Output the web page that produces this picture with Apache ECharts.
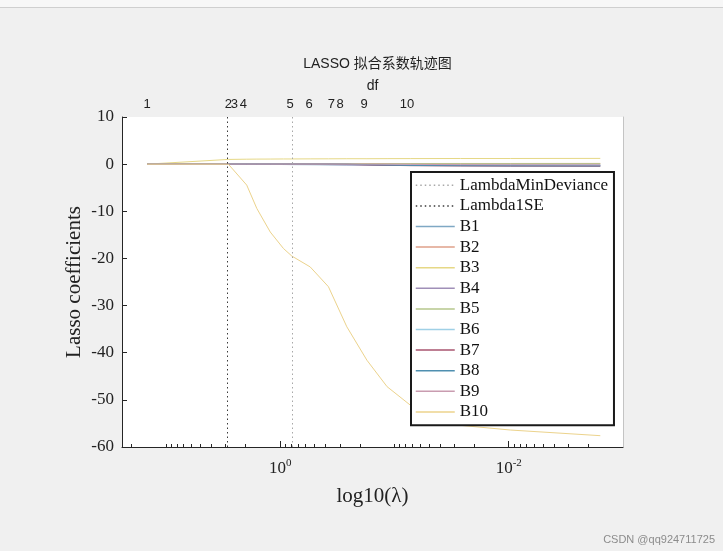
<!DOCTYPE html>
<html><head><meta charset="utf-8">
<script src="https://cdn.jsdelivr.net/npm/echarts@6/dist/echarts.min.js"></script>
<style>
html,body{margin:0;padding:0;background:#f0f0f0;}
#topbar{position:absolute;left:0;top:0;width:723px;height:7px;background:#f7f7f7;border-bottom:1px solid #cfcfcf;}
#c{position:absolute;left:0;top:0;width:723px;height:551px;}
</style></head><body>
<div id="topbar"></div>
<div id="c"></div>
<script>
// ---- data ----
const titleText = 'LASSO 拟合系数轨迹图';
const lambda = [14.6, 2.84, 1.96, 1.60, 1.22, 0.935, 0.79, 0.546, 0.378, 0.261, 0.174, 0.116, 0.0728, 0.0265, 0.00968, 0.00158];
const B1  = [0, 0, 0, -0.02, -0.05, -0.08, -0.1, -0.12, -0.15, -0.18, -0.2, -0.22, -0.24, -0.25, -0.26, -0.27];
const B2  = [0, 0, 0, 0, 0.02, 0.04, 0.05, 0.06, 0.08, 0.1, 0.11, 0.12, 0.13, 0.14, 0.14, 0.15];
const B3  = [0, 1.0, 1.05, 1.07, 1.08, 1.1, 1.1, 1.12, 1.13, 1.15, 1.15, 1.17, 1.18, 1.2, 1.2, 1.22];
const B4  = [0, 0, 0, 0, 0, 0, 0, -0.05, -0.1, -0.15, -0.2, -0.25, -0.3, -0.33, -0.35, -0.36];
const B5  = [0, 0, 0, 0, 0, 0, 0, 0, 0.03, 0.05, 0.07, 0.08, 0.09, 0.1, 0.1, 0.1];
const B6  = [0, 0, 0, 0, 0, 0, 0, 0, 0, -0.05, -0.08, -0.1, -0.12, -0.13, -0.14, -0.15];
const B7  = [0, 0, 0, 0, 0, 0, 0, 0, 0, -0.05, -0.15, -0.25, -0.32, -0.38, -0.42, -0.45];
const B8  = [0, 0, 0, 0, 0, 0, 0, 0, 0, 0, -0.1, -0.2, -0.28, -0.33, -0.36, -0.38];
const B9  = [0, 0, 0, 0, 0, 0, 0, 0, 0, 0, 0, 0, -0.05, -0.1, -0.12, -0.14];
const B10 = [0, 0, -4.45, -9.4, -14.4, -17.9, -19.5, -21.8, -26.0, -34.5, -41.6, -47.2, -51.1, -55.4, -56.4, -57.6];
const lambdaMinDeviance = 0.79;
const lambda1SE = 2.89;
const dfLambda = [14.6, 2.84, 2.51, 2.10, 0.817, 0.557, 0.357, 0.298, 0.184, 0.0778];
const dfLabels = ['1', '2', '3', '4', '5', '6', '7', '8', '9', '10'];
const xMajorTicks = [1, 0.01];
const xMajorLabels = ['0', '-2'];
const xMinorTicks = [20, 10, 9, 8, 7, 6, 5, 4, 3, 2,
  0.9, 0.8, 0.7, 0.6, 0.5, 0.4, 0.3, 0.2, 0.1,
  0.09, 0.08, 0.07, 0.06, 0.05, 0.04, 0.03, 0.02,
  0.009, 0.008, 0.007, 0.006, 0.005, 0.004, 0.003, 0.002];
const yTicks = {min: -60, max: 10, interval: 10};
const coefNames = ['B1','B2','B3','B4','B5','B6','B7','B8','B9','B10'];
const coefValues = [B1, B2, B3, B4, B5, B6, B7, B8, B9, B10];
const coefColors = ['#7fa8c4','#dfa08a','#e6d886','#a08fb8','#b6c78c','#9fd0e6','#a8546f','#4f8fb0','#c99cb0','#ecd38c'];

// ---- chart ----
const SERIF = '"Liberation Serif","DejaVu Serif",serif';
const SANS = '"Liberation Sans","Noto Sans CJK SC",sans-serif';
const xMin = 0.001, xMax = 24.2;
const AX = '#262626';

function nearestIdx(arr, v) {
  let best = 0, bd = Infinity;
  arr.forEach((a, i) => { const d = Math.abs(Math.log10(a) - Math.log10(v)); if (d < bd) { bd = d; best = i; } });
  return best;
}

const chart = echarts.init(document.getElementById('c'), null, {renderer: 'canvas'});

function vline(name, val, col) {
  return {
    name: name, type: 'line', xAxisIndex: 0, yAxisIndex: 0, data: [], symbol: 'none',
    color: col, itemStyle: {color: col},
    lineStyle: {type: [1.5, 3], color: col, width: 1},
    markLine: {silent: true, symbol: ['none','none'], label: {show: false},
      lineStyle: {type: [1.5, 3], color: col, width: 1}, data: [{xAxis: val}]}
  };
}
const series = [vline('LambdaMinDeviance', lambdaMinDeviance, '#a8a8a8'), vline('Lambda1SE', lambda1SE, '#3a3a3a')];
coefNames.forEach((n, k) => {
  series.push({
    name: n, type: 'line', xAxisIndex: 0, yAxisIndex: 0, symbol: 'none', silent: true,
    color: coefColors[k], itemStyle: {color: coefColors[k]},
    lineStyle: {color: coefColors[k], width: 1},
    data: lambda.map((l, i) => [l, coefValues[k][i]])
  });
});

const option = {
  animation: false,
  title: {text: titleText, left: 372.5, top: 52, textAlign: 'center',
    textStyle: {fontFamily: SANS, fontSize: 14, fontWeight: 'normal', color: '#222'}},
  grid: [
    {left: 122, top: 117, right: 100, bottom: 104, show: true, backgroundColor: '#fff', borderWidth: 0},
    {left: 122, top: 117, right: 100, bottom: 104, show: false}
  ],
  legend: {
    orient: 'vertical', left: 411, top: 172,
    data: ['LambdaMinDeviance', 'Lambda1SE'].concat(coefNames),
    itemWidth: 39, itemHeight: 14, itemGap: 0,
    padding: [3, 6, 3, 4],
    backgroundColor: '#fff', borderColor: '#1a1a1a', borderWidth: 2,
    itemStyle: {opacity: 0},
    lineStyle: {width: 1.5},
    textStyle: {fontFamily: SERIF, fontSize: 17, color: '#111', lineHeight: 20.6},
    selectedMode: false
  },
  xAxis: [
    {
      type: 'log', logBase: 10, min: xMin, max: xMax, inverse: true, position: 'bottom', gridIndex: 0,
      axisLine: {show: true, onZero: false, lineStyle: {color: AX, width: 1}},
      axisTick: {show: true, inside: true, length: 6, customValues: xMajorTicks, lineStyle: {color: AX}},
      axisLabel: {
        customValues: xMajorTicks, margin: 11, hideOverlap: false,
        formatter: v => '{a|10}{b|' + xMajorLabels[nearestIdx(xMajorTicks, v)] + '}',
        rich: {
          a: {fontFamily: SERIF, fontSize: 17, color: '#222', lineHeight: 22},
          b: {fontFamily: SERIF, fontSize: 11, color: '#222', lineHeight: 12, verticalAlign: 'top'}
        }
      },
      splitLine: {show: false},
      name: 'log10(λ)', nameLocation: 'middle', nameGap: 39,
      nameTextStyle: {fontFamily: SERIF, fontSize: 21, color: '#222'}
    },
    {
      type: 'log', logBase: 10, min: xMin, max: xMax, inverse: true, position: 'top', gridIndex: 0,
      axisLine: {show: false, onZero: false}, axisTick: {show: false}, splitLine: {show: false},
      axisLabel: {
        customValues: dfLambda, margin: 6, hideOverlap: false, interval: 0,
        fontFamily: SANS, fontSize: 13, color: '#222',
        formatter: v => dfLabels[nearestIdx(dfLambda, v)]
      },
      name: 'df', nameLocation: 'middle', nameGap: 24,
      nameTextStyle: {fontFamily: SANS, fontSize: 14, color: '#222'}
    },
    {
      type: 'log', logBase: 10, min: xMin, max: xMax, inverse: true, position: 'bottom', gridIndex: 1,
      axisLine: {show: false, onZero: false}, splitLine: {show: false}, axisLabel: {show: false},
      axisTick: {show: true, inside: true, length: 3, customValues: xMinorTicks, lineStyle: {color: AX}}
    }
  ],
  yAxis: [
    {
      type: 'value', min: yTicks.min, max: yTicks.max, interval: yTicks.interval, gridIndex: 0, position: 'left',
      axisLine: {show: true, onZero: false, lineStyle: {color: AX, width: 1}},
      axisTick: {show: true, inside: true, length: 5, lineStyle: {color: AX}},
      axisLabel: {fontFamily: SERIF, fontSize: 17, color: '#222', margin: 8},
      splitLine: {show: false},
      name: 'Lasso coefficients', nameLocation: 'middle', nameGap: 37, nameMoveOverlap: false,
      nameTextStyle: {fontFamily: SERIF, fontSize: 21, color: '#222'}
    },
    {
      type: 'value', min: yTicks.min, max: yTicks.max, gridIndex: 0, position: 'right',
      axisLine: {show: true, onZero: false, lineStyle: {color: '#c4c4c4', width: 1}},
      axisTick: {show: false}, axisLabel: {show: false}, splitLine: {show: false}
    },
    {
      type: 'value', min: yTicks.min, max: yTicks.max, gridIndex: 1, show: false
    }
  ],
  graphic: [
    {type: 'text', right: 8, bottom: 6,
      style: {text: 'CSDN @qq924711725', fill: '#8c8c8c', font: '11px "Liberation Sans", sans-serif'}}
  ],
  series: series
};
chart.setOption(option);
</script>
</body></html>
